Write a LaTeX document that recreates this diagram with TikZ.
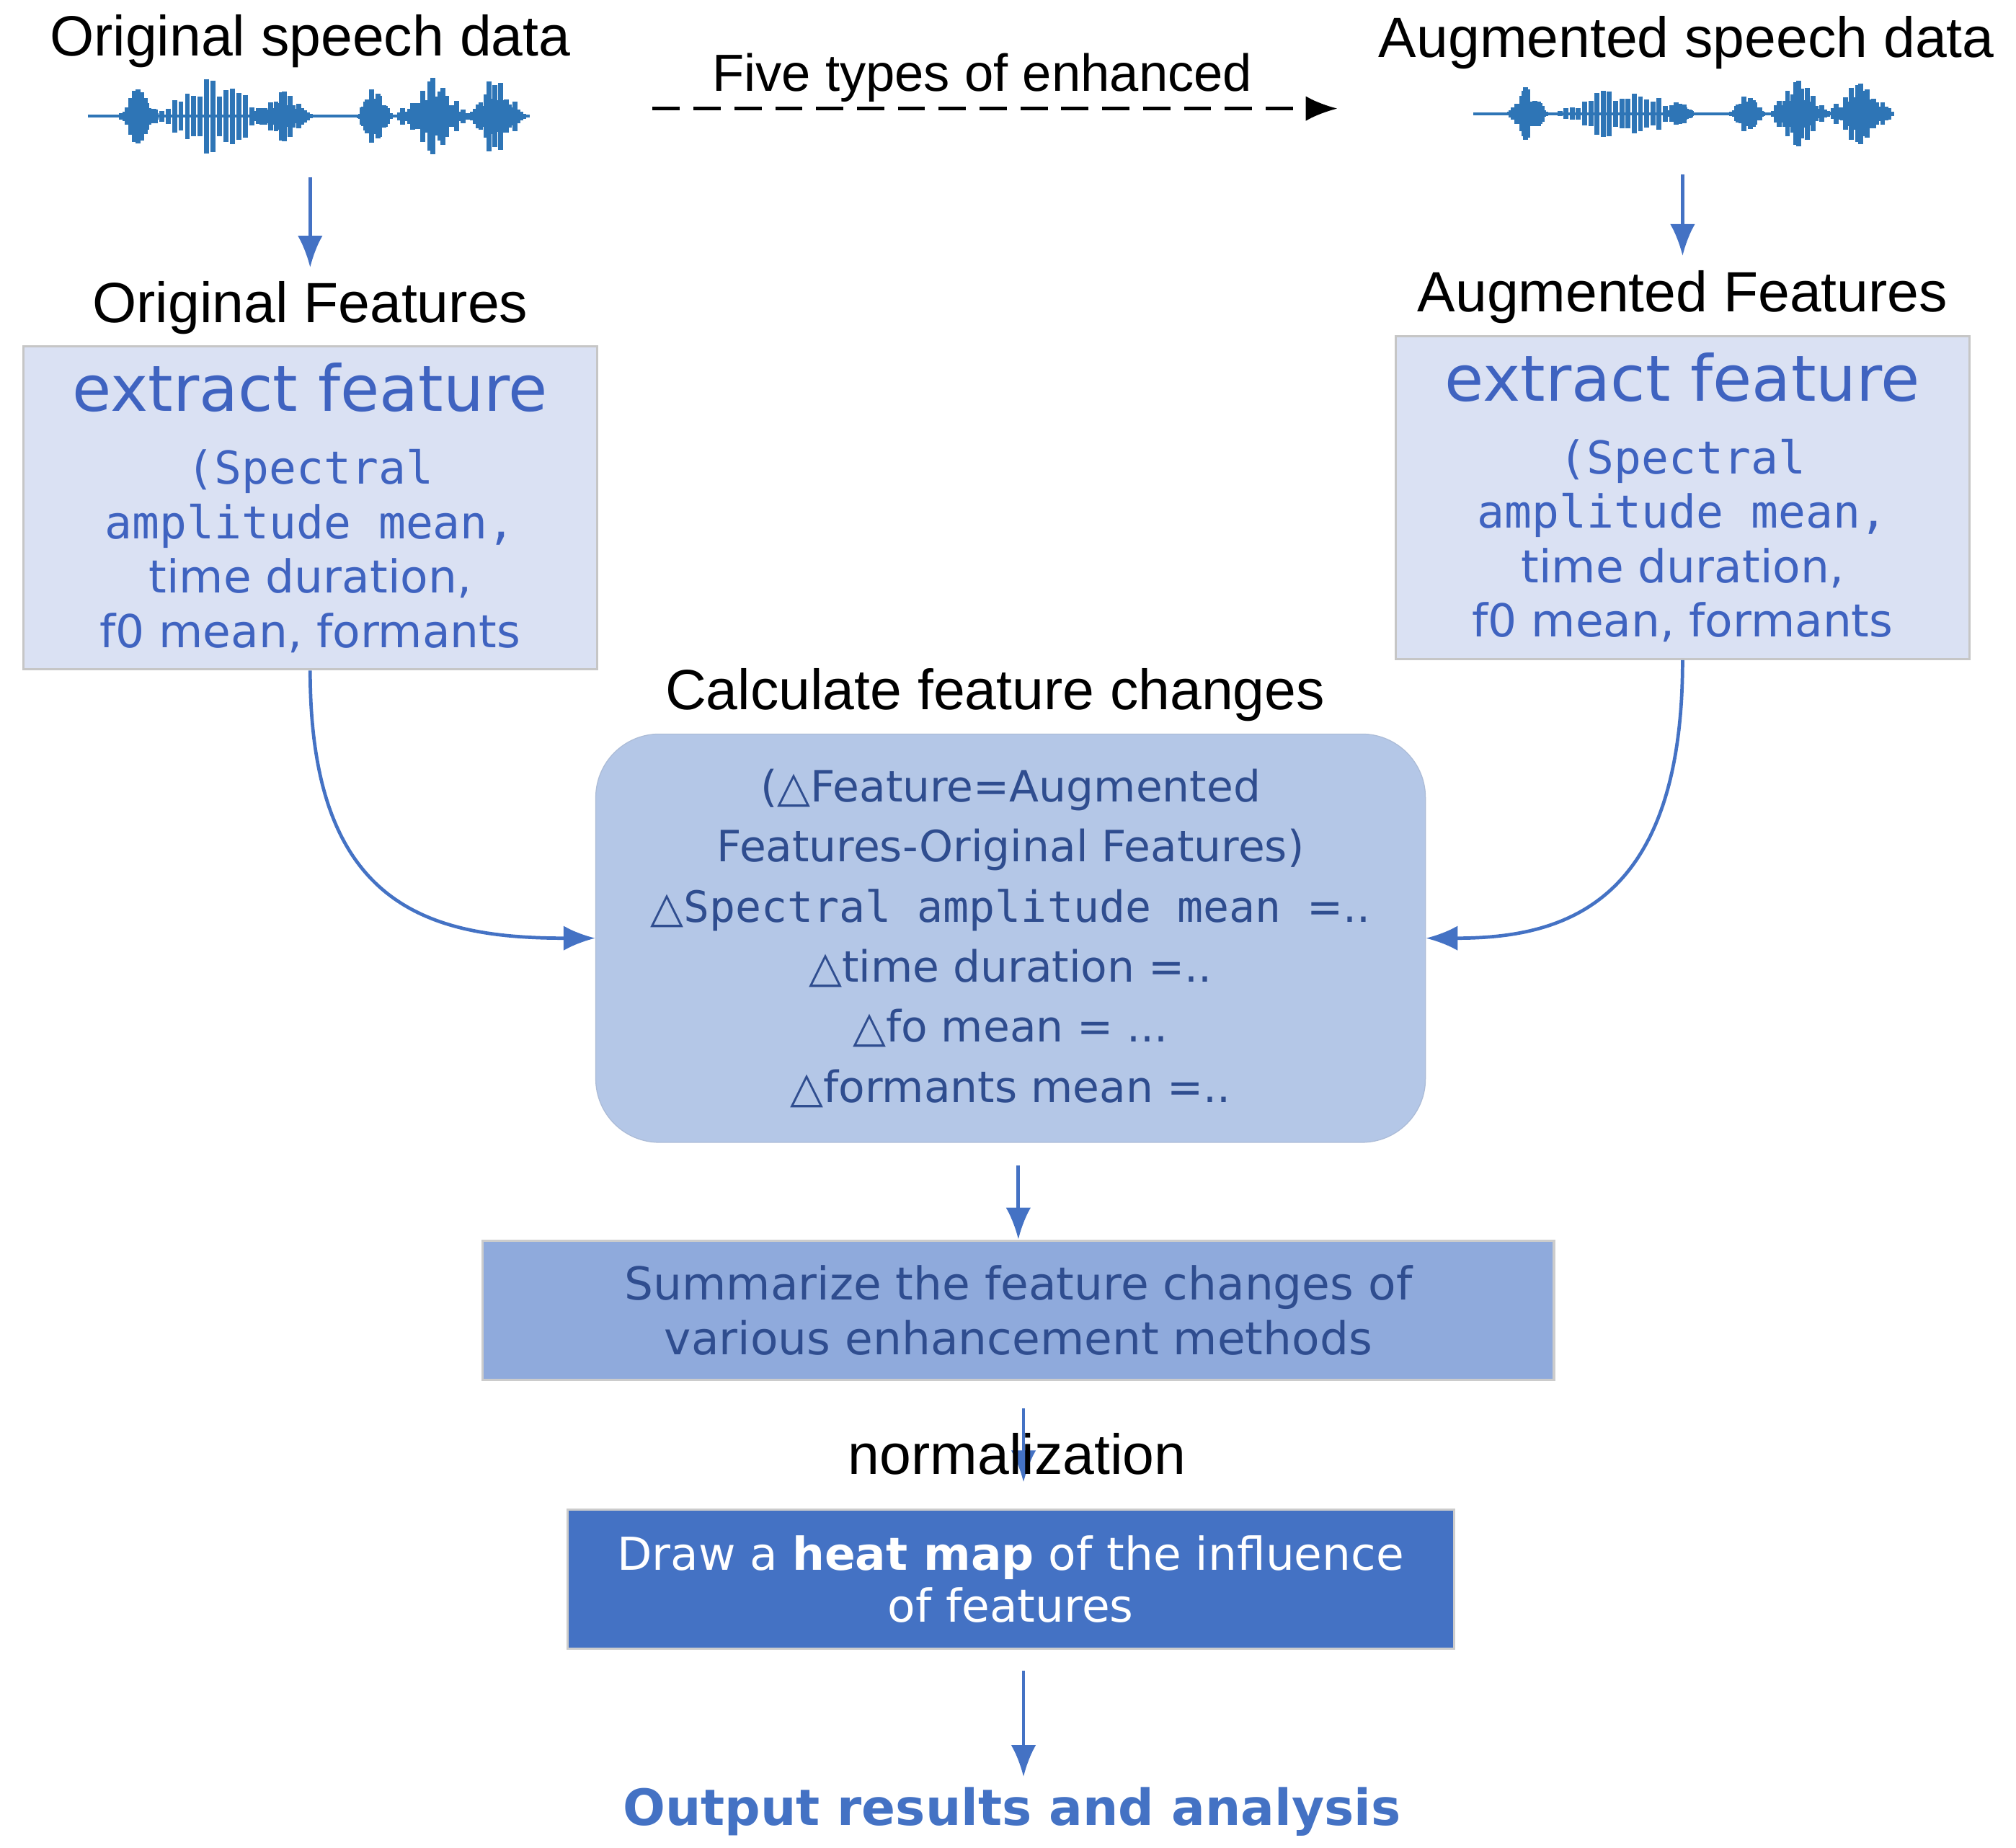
\documentclass[tikz,border=0pt]{standalone}
\usepackage{fontspec}
\setmainfont{Liberation Sans}
\newfontfamily\dv{DejaVu Sans}
\newfontfamily\dvm{DejaVu Sans Mono}
\usetikzlibrary{arrows.meta}
\definecolor{wave}{HTML}{2E75B6}
\definecolor{arr}{HTML}{4472C4}
\definecolor{lbox}{HTML}{DAE1F3}
\definecolor{rbox}{HTML}{B4C7E7}
\definecolor{sbox}{HTML}{8FAADC}
\definecolor{hbox}{HTML}{4472C4}
\definecolor{txtb}{HTML}{3F63C0}
\definecolor{txtd}{HTML}{2F4D8F}
\tikzset{
 ttl/.style={font=\fontsize{25}{28}\selectfont, text=black},
 ar/.style={-{Latex[length=14pt,width=11pt]}, arr, line width=1.5pt},
 feat/.style={draw=gray!45, line width=1pt, fill=lbox, minimum width=444*0.02cm, minimum height=250*0.02cm, align=center, text=txtb, inner sep=0pt, font=\dv\fontsize{20}{24}\selectfont},
}
\newcommand{\mywave}[3]{% x0, x1, y
 \draw[wave, line width=1.2pt] (#1,#3) -- (#2,#3);
}
\begin{document}
\begin{tikzpicture}[x=0.02cm,y=-0.02cm]
\useasboundingbox (0,0) rectangle (1560,1430);
\pgfmathsetseed{7}
% titles
\node[ttl] (ot) at (240,32) {Original speech data};
\node[ttl] (at) at (1305,33) {Augmented speech data};
% waveforms
\mywave{68}{410}{90}
\foreach \cx/\w/\h in {108/14/28,165/50/32,218/22/22,290/12/26,335/26/36,383/22/34}{
  \foreach \i in {-10,...,10}{
    \pgfmathsetmacro{\xx}{\cx+\i*\w/10}
    \pgfmathsetmacro{\hh}{\h*(1-abs(\i)/11)*(0.35+0.65*rnd)}
    \draw[wave,line width=2.2pt] (\xx,90-\hh) -- (\xx,90+\hh);
  }}
\mywave{1140}{1465}{88}
\foreach \cx/\w/\h in {1182/14/24,1255/48/30,1300/10/12,1352/12/18,1392/22/28,1440/24/30}{
  \foreach \i in {-10,...,10}{
    \pgfmathsetmacro{\xx}{\cx+\i*\w/10}
    \pgfmathsetmacro{\hh}{\h*(1-abs(\i)/11)*(0.35+0.65*rnd)}
    \draw[wave,line width=2.2pt] (\xx,88-\hh) -- (\xx,88+\hh);
  }}
\coordinate (ow) at (240,137);
\coordinate (aw) at (1302,135);
\coordinate (ofa) at (240,207);
\coordinate (afa) at (1302,198);
\draw[ar] (ow) -- (ofa);
\draw[ar] (aw) -- (afa);
% dashed arrow
\coordinate (d1) at (505,84);
\coordinate (d2) at (1035,84);
\draw[dash pattern=on 12pt off 6pt, line width=1.5pt, -{Latex[length=14pt,width=11pt]}] (d1) -- (d2);
\node[font=\fontsize{23}{26}\selectfont] (five) at (760,60) {Five types of enhanced};
% feature labels
\node[ttl] (of) at (240,238) {Original Features};
\node[ttl] (af) at (1302,230) {Augmented Features};
% feature boxes
\node[feat] (ob) at (240,393) {{\fontsize{28}{30}\selectfont extract feature}\\[8pt]
 {\dvm (Spectral}\\
 {\dvm amplitude mean,}\\
 time duration,\\
 f0 mean, formants};
\node[feat] (ab) at (1302,385) {{\fontsize{28}{30}\selectfont extract feature}\\[8pt]
 {\dvm (Spectral}\\
 {\dvm amplitude mean,}\\
 time duration,\\
 f0 mean, formants};
% calculate
\node[ttl] (ct) at (770,538) {Calculate feature changes};
\node[fill=rbox, draw=rbox!85!gray, rounded corners=28pt, minimum width=642*0.02cm, minimum height=316*0.02cm, align=center, text=txtd, inner sep=0pt, font=\dv\fontsize{19}{26.5}\selectfont] (cb) at (782,726)
 {(△Feature=Augmented\\
  Features-Original Features)\\
  △{\dvm Spectral amplitude mean }=..\\
  △time duration =..\\
  △fo mean = ...\\
  △formants mean =..};
\draw[ar] (ob.south) .. controls (240,700) and (330,726) .. (cb.west);
\draw[ar] (ab.south) .. controls (1302,700) and (1210,726) .. (cb.east);
% summarize
\coordinate (c1) at (788,902);
\node[fill=sbox, draw=gray!40, line width=1pt, minimum width=829*0.02cm, minimum height=108*0.02cm, align=center, text=txtd, inner sep=0pt, font=\dv\fontsize{20}{24}\selectfont] (sb) at (788,1014)
 {Summarize the feature changes of\\various enhancement methods};
\draw[ar] (c1) -- (sb.north);
% normalization
\coordinate (n1) at (792,1090);
\node[fill=hbox, draw=gray!40, line width=1pt, minimum width=686*0.02cm, minimum height=108*0.02cm, align=center, text=white, inner sep=0pt, font=\dv\fontsize{20}{23}\selectfont] (hb) at (782,1222)
 {Draw a \textbf{heat map} of the influence\\of features};
\draw[ar] (n1) -- (792,1147);
\node[font=\fontsize{25}{28}\selectfont] (norm) at (787,1125) {normalization};
% output
\coordinate (h1) at (792,1293);
\node[font=\dv\bfseries\fontsize{22}{26}\selectfont, text=arr] (out) at (783,1402) {Output results and analysis};
\draw[ar] (h1) -- (792,1375);
\end{tikzpicture}
\end{document}
